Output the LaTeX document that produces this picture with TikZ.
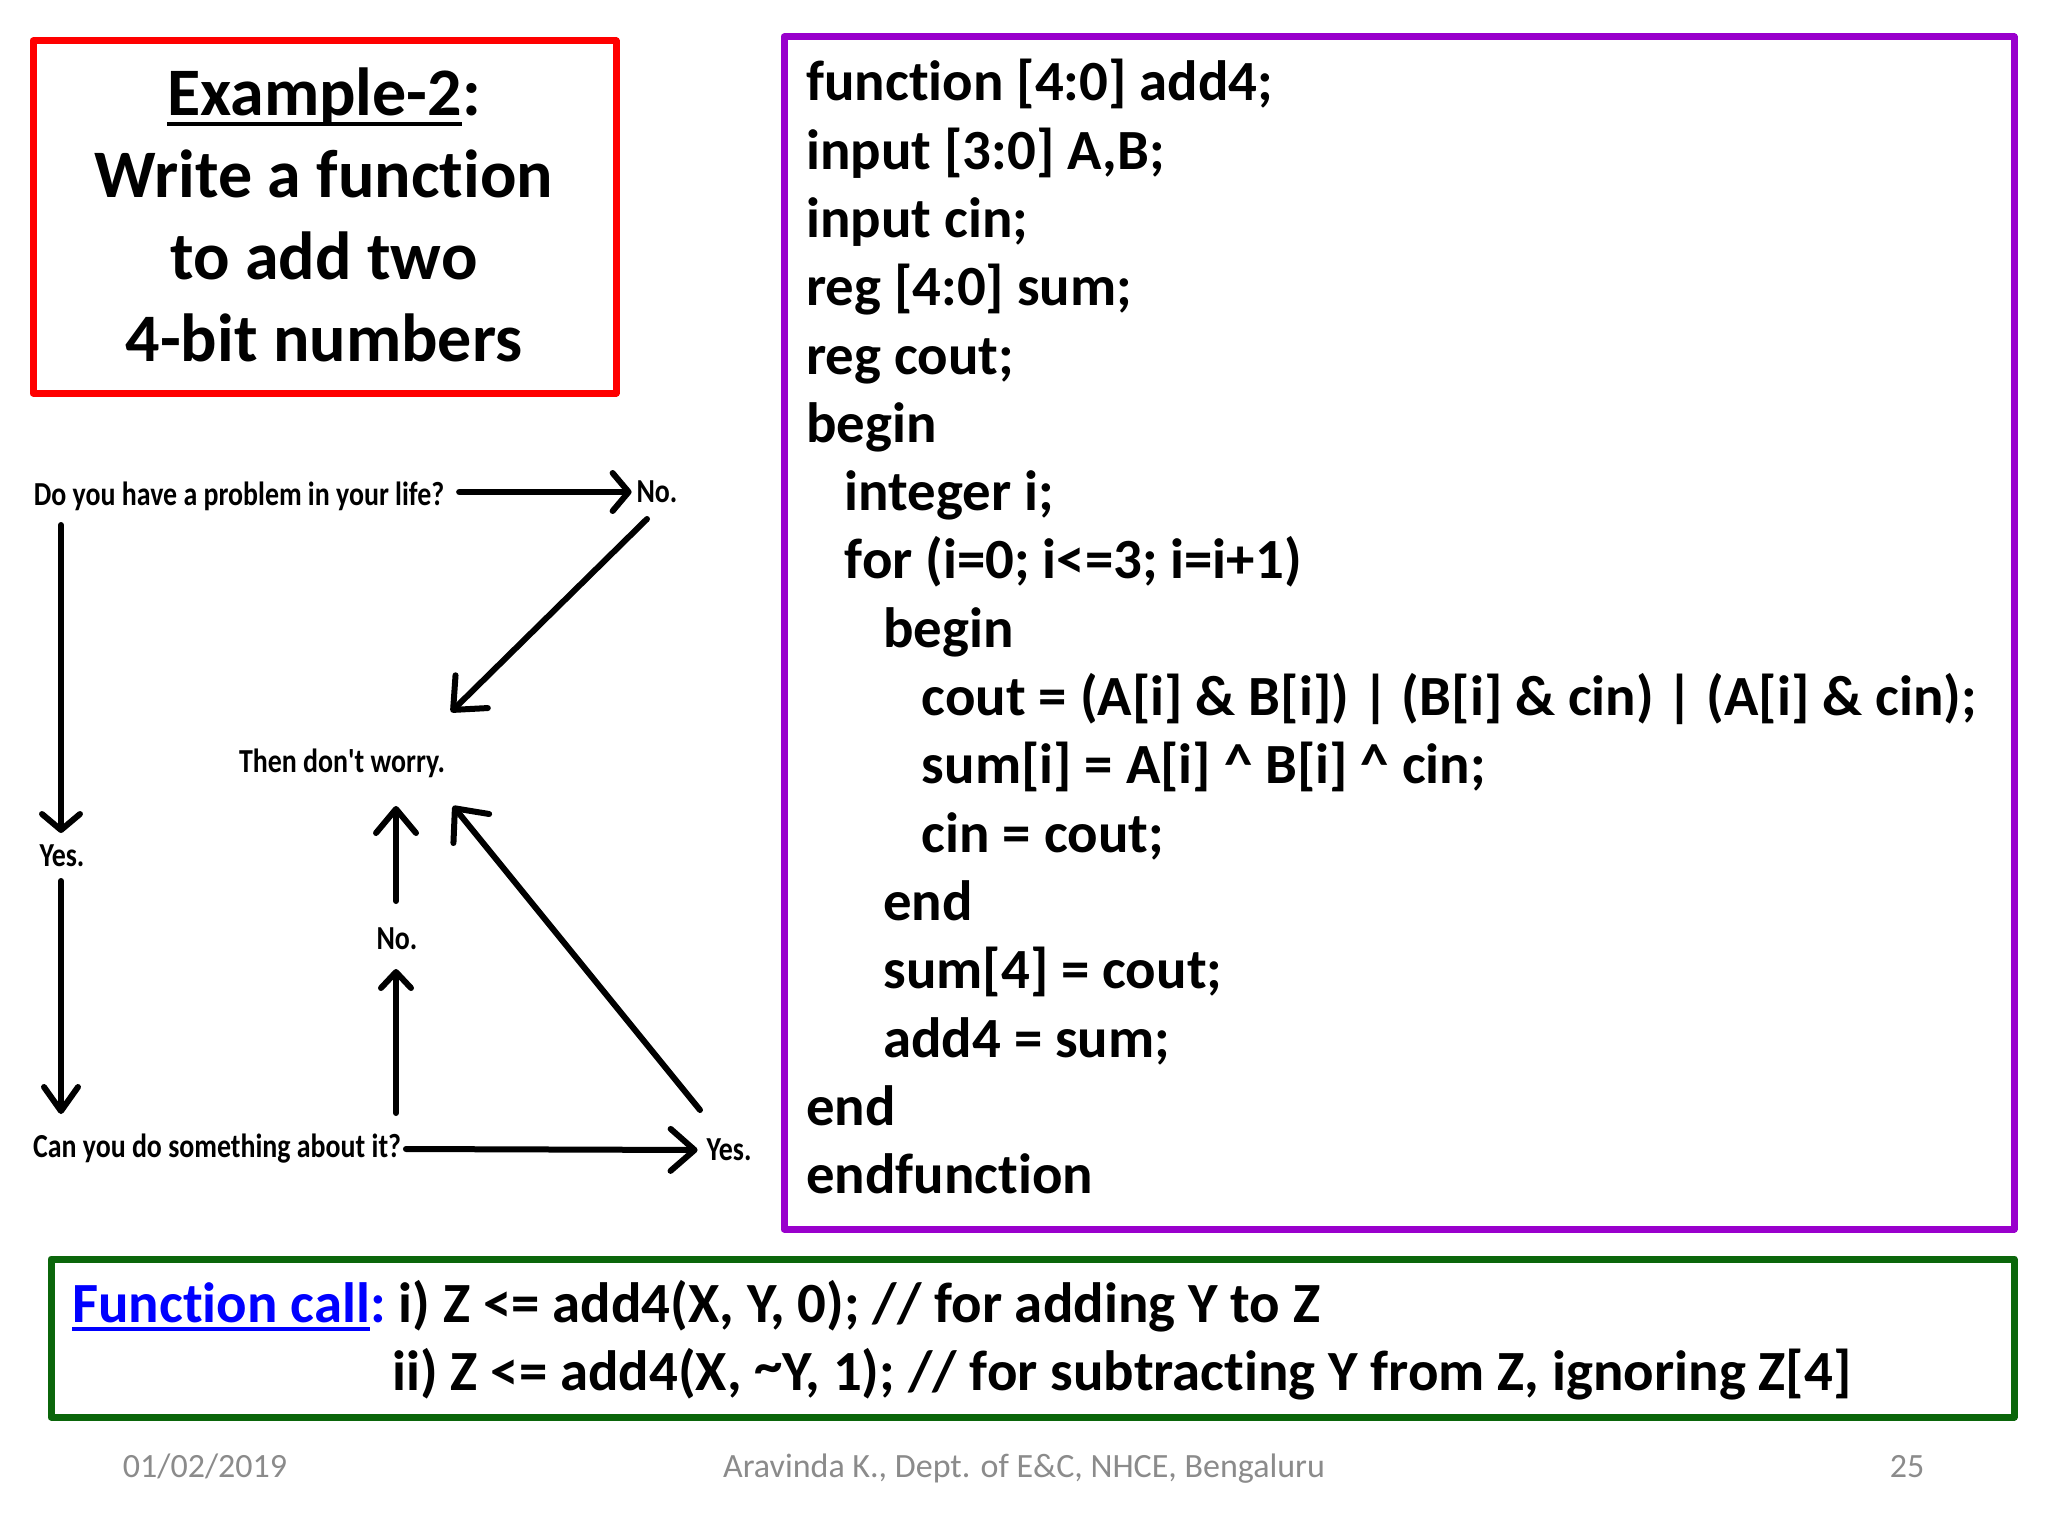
\documentclass[tikz,border=0pt]{standalone}
\usepackage{fontspec}
\setmainfont{Carlito}[Ligatures=NoCommon]
\usepackage{xcolor}
\usetikzlibrary{positioning,arrows.meta}
\definecolor{boxred}{HTML}{FF0000}
\definecolor{boxpurple}{HTML}{9900CC}
\definecolor{boxgreen}{HTML}{0B660B}
\definecolor{foot}{HTML}{8B8B8B}
\newcommand{\ind}[1]{\hspace*{#1\dimexpr19.25pt\relax}}
\newcommand{\thickul}[2]{\setbox0\hbox{#2}\rlap{\rule[-#1]{\wd0}{1.6pt}}\box0}
\tikzset{
  slidebox/.style={draw=#1,line width=3.5pt,line join=round},
  flowtext/.style={inner sep=0pt,outer sep=3pt,xscale=.83,transform shape,font=\fontsize{16.8}{20}\bfseries},
  flow/.style 2 args={line width=3pt,line cap=round,-{Straight Barb[length=#1pt,width=#2pt,line cap=round,round]}},
  foottext/.style={anchor=base,text=foot,font=\fontsize{17}{20}\selectfont}
}
\begin{document}
\begin{tikzpicture}[x=0.5pt,y=-0.5pt]
    \useasboundingbox (0,0) rectangle (2048,1536);
    \draw[slidebox=boxred] (33,41) rectangle (616,393);
    \draw[slidebox=boxpurple] (784,37) rectangle (2014,1229);
    \draw[slidebox=boxgreen] (51,1259) rectangle (2014,1417);
    \node[align=center,font=\fontsize{34}{41}\bfseries] (Title) at (324,215)
      {\thickul{5pt}{Example-2}:\\Write a function\\to add two\\4-bit numbers};
    \node[anchor=north west,align=left,inner sep=0pt,font=\fontsize{28.4}{34.15}\bfseries] (Code) at (806,59)
      {function [4:0] add4;\\
       input [3:0] A,B;\\
       input cin;\\
       reg [4:0] sum;\\
       reg cout;\\
       begin\\
       \ind{1}integer i;\\
       \ind{1}for (i=0; i<=3; i=i+1)\\
       \ind{2}begin\\
       \ind{3}cout = (A[i] \& B[i]) | (B[i] \& cin) | (A[i] \& cin);\\
       \ind{3}sum[i] = A[i] \^{} B[i] \^{} cin;\\
       \ind{3}cin = cout;\\
       \ind{2}end\\
       \ind{2}sum[4] = cout;\\
       \ind{2}add4 = sum;\\
       end\\
       endfunction};
    \node[anchor=north west,align=left,inner sep=0pt,font=\fontsize{28.4}{34.15}\bfseries] (Call) at (72,1280)
      {\textcolor{blue}{\thickul{4pt}{Function call}:}\hspace{-2pt} i) Z <= add4(X, Y, 0); // for adding Y to Z\\
       \hspace*{160pt}ii) Z <= add4(X, \raisebox{3pt}{\textasciitilde}Y, 1); // for subtracting Y from Z, ignoring Z[4]};
    \node[foottext] (Date) at (205,1477) {01/02/2019};
    \node[foottext] (Author) at (1024,1477) {Aravinda K., Dept. of E\&C, NHCE, Bengaluru};
    \node[foottext] (Page) at (1907,1477) {25};

    \node[flowtext] (Problem) at (239,496) {Do you have a problem in your life?};
    \node[flowtext] (NoA) at (657,492) {No.};
    \node[flowtext] (Worry) at (342,763) {Then don\textquotesingle t worry.};
    \node[flowtext] (YesA) at (62,856) {Yes.};
    \node[flowtext] (NoB) at (397,939) {No.};
    \node[flowtext] (Can) at (217,1149) {Can you do something about it?};
    \node[flowtext] (YesB) at (729,1150) {Yes.};

    \coordinate (ProblemOut) at (61,525);
    \coordinate (YesAIn) at (61,833);
    \coordinate (YesAOut) at (61,881);
    \coordinate (CanIn) at (61,1114);
    \coordinate (CanOut) at (396,1113);
    \coordinate (WorryA) at (451,712);
    \coordinate (WorryB) at (396,806);
    \coordinate (WorryC) at (453,806);
    \coordinate (NoAOut) at (647,519);
    \coordinate (NoBIn) at (396,969);
    \coordinate (NoBOut) at (396,901);
    \coordinate (YesBOut) at (700,1110);

    \draw[flow={8}{19},shorten <=5pt] (Problem.east |- NoA) -- (NoA);
    \draw[flow={13}{23}] (NoAOut) -- (WorryA);
    \draw[flow={8}{19}] (ProblemOut) -- (YesAIn);
    \draw[flow={12}{17}] (YesAOut) -- (CanIn);
    \draw[flow={12}{21},shorten >=2pt] (Can.east) -- (YesB.west);
    \draw[flow={8}{15}] (CanOut) -- (NoBIn);
    \draw[flow={12}{20}] (NoBOut) -- (WorryB);
    \draw[flow={13}{23}] (YesBOut) -- (WorryC);
  \end{tikzpicture}
\end{document}
